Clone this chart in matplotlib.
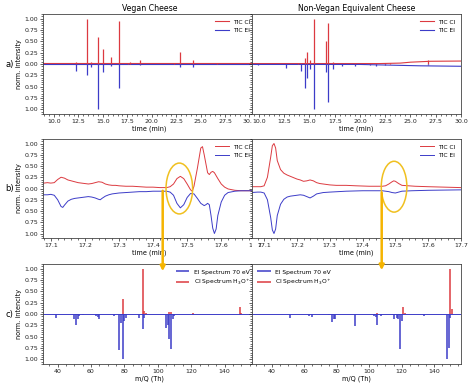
import matplotlib
matplotlib.use("Agg")
import matplotlib.pyplot as plt
from matplotlib.patches import Ellipse, FancyArrowPatch, Rectangle
from matplotlib.ticker import AutoMinorLocator, FuncFormatter, MultipleLocator

plt.rcParams['font.size'] = 4.5
plt.rcParams['axes.linewidth'] = 0.6
plt.rcParams['xtick.major.size'] = 2
plt.rcParams['ytick.major.size'] = 2
plt.rcParams['xtick.minor.size'] = 1.2
plt.rcParams['ytick.minor.size'] = 1.2
plt.rcParams['xtick.major.width'] = 0.5
plt.rcParams['ytick.major.width'] = 0.5
plt.rcParams['xtick.minor.width'] = 0.4
plt.rcParams['ytick.minor.width'] = 0.4
plt.rcParams['xtick.major.pad'] = 1.5
plt.rcParams['ytick.major.pad'] = 1.5

RED = '#dc3a40'
BLUE = '#3c3cc8'
GOLD = '#f0c020'
ARROW = '#f5b400'

#----------------------------------
# a) full chromatograms, peaks (time, height)
#----------------------------------
vegan_ci_t = [12.2, 13.38, 13.75, 14.47, 15.03, 15.85, 16.63, 17.55, 17.8, 18.83, 22.3, 22.87, 24.27, 26.7]
vegan_ci_h = [0.04, 1.00, 0.05, 0.60, 0.34, 0.16, 0.95, 0.03, 0.04, 0.08, 0.03, 0.26, 0.08, 0.02]
vegan_ei_t = [12.2, 13.38, 13.75, 14.47, 15.03, 15.85, 16.63, 18.83, 22.87, 24.27]
vegan_ei_h = [-0.15, -0.25, -0.07, -1.00, -0.18, -0.05, -0.52, -0.03, -0.07, -0.07]
vegan_base_t = [8.8, 31.0]
vegan_ci_base = [0.012, 0.012]
vegan_ei_base = [-0.008, -0.008]

nonvegan_ci_t = [13.85, 14.6, 14.75, 15.05, 15.47, 16.6, 16.87, 17.35, 19.5, 20.95, 21.6, 22.45, 22.95, 26.75]
nonvegan_ci_h = [0.02, 0.14, 0.26, 0.08, 1.00, 0.50, 0.91, 0.04, 0.03, 0.03, 0.03, 0.02, 0.02, 0.08]
nonvegan_ei_t = [9.9, 12.65, 14.2, 14.6, 14.75, 15.05, 15.47, 16.6, 16.87, 17.35, 18.25, 19.5, 20.95, 21.6, 22.45, 26.75]
nonvegan_ei_h = [-0.02, -0.08, -0.15, -0.52, -0.30, -0.12, -1.00, -0.17, -0.83, -0.10, -0.05, -0.05, -0.03, -0.05, -0.02, -0.03]
nonvegan_ci_base_t = [9.3, 22.0, 24.0, 25.0, 26.0, 27.0, 30.0]
nonvegan_ci_base = [0.01, 0.01, 0.02, 0.04, 0.05, 0.06, 0.065]
nonvegan_ei_base_t = [9.3, 20.0, 22.0, 24.0, 26.0, 30.0]
nonvegan_ei_base = [-0.01, -0.01, -0.02, -0.03, -0.04, -0.05]

#----------------------------------
# b) zoom 17.1 - 17.7 min
#----------------------------------
vegan_ci_zoom_t = [17.07, 17.08, 17.09, 17.10, 17.11, 17.12, 17.13, 17.14, 17.15, 17.16, 17.17, 17.18,
                   17.19, 17.20, 17.21, 17.22, 17.23, 17.24, 17.25, 17.26, 17.27, 17.28, 17.29, 17.30,
                   17.32, 17.34, 17.36, 17.38, 17.40, 17.42, 17.44, 17.45, 17.46, 17.47, 17.48, 17.49,
                   17.50, 17.51, 17.515, 17.52, 17.53, 17.54, 17.545, 17.55, 17.56, 17.565, 17.57, 17.575,
                   17.58, 17.59, 17.60, 17.61, 17.62, 17.64, 17.66, 17.68, 17.70]
vegan_ci_zoom = [0.13, 0.12, 0.13, 0.12, 0.13, 0.20, 0.25, 0.23, 0.19, 0.17, 0.15, 0.13,
                 0.12, 0.11, 0.10, 0.11, 0.13, 0.15, 0.14, 0.10, 0.08, 0.07, 0.07, 0.06,
                 0.05, 0.05, 0.04, 0.03, 0.03, 0.02, 0.02, 0.04, 0.10, 0.22, 0.27, 0.22,
                 0.10, -0.03, -0.06, 0.05, 0.45, 0.90, 0.93, 0.75, 0.35, 0.31, 0.36, 0.38,
                 0.35, 0.22, 0.10, 0.03, -0.01, -0.04, -0.05, -0.05, -0.05]
vegan_ei_zoom_t = [17.07, 17.08, 17.09, 17.10, 17.11, 17.12, 17.13, 17.135, 17.14, 17.15, 17.16, 17.17,
                   17.18, 17.19, 17.20, 17.21, 17.22, 17.23, 17.24, 17.245, 17.25, 17.26, 17.27, 17.28,
                   17.30, 17.32, 17.34, 17.36, 17.38, 17.40, 17.42, 17.44, 17.45, 17.46, 17.47, 17.48,
                   17.49, 17.50, 17.51, 17.52, 17.53, 17.54, 17.55, 17.555, 17.56, 17.565, 17.57, 17.575,
                   17.58, 17.585, 17.59, 17.60, 17.61, 17.62, 17.64, 17.66, 17.68, 17.70]
vegan_ei_zoom = [-0.15, -0.14, -0.14, -0.13, -0.15, -0.25, -0.40, -0.42, -0.37, -0.28, -0.24, -0.22,
                 -0.21, -0.20, -0.19, -0.18, -0.19, -0.21, -0.24, -0.25, -0.22, -0.17, -0.14, -0.12,
                 -0.10, -0.09, -0.08, -0.07, -0.07, -0.06, -0.06, -0.06, -0.08, -0.15, -0.33, -0.43,
                 -0.36, -0.20, -0.11, -0.12, -0.22, -0.33, -0.38, -0.36, -0.33, -0.36, -0.60, -0.88,
                 -1.00, -0.90, -0.60, -0.30, -0.15, -0.09, -0.06, -0.05, -0.05, -0.05]

nonvegan_ci_zoom_t = [17.06, 17.08, 17.09, 17.10, 17.11, 17.12, 17.125, 17.13, 17.135, 17.14, 17.15, 17.16,
                      17.17, 17.18, 17.19, 17.20, 17.21, 17.22, 17.23, 17.24, 17.25, 17.26, 17.27, 17.28,
                      17.30, 17.32, 17.35, 17.38, 17.42, 17.46, 17.47, 17.48, 17.49, 17.495, 17.50, 17.51,
                      17.52, 17.54, 17.56, 17.60, 17.65, 17.70]
nonvegan_ci_zoom = [0.04, 0.04, 0.04, 0.06, 0.25, 0.70, 0.95, 1.00, 0.90, 0.62, 0.42, 0.34,
                    0.30, 0.27, 0.24, 0.21, 0.19, 0.16, 0.17, 0.19, 0.17, 0.13, 0.11, 0.10,
                    0.08, 0.07, 0.07, 0.06, 0.05, 0.05, 0.06, 0.10, 0.15, 0.17, 0.16, 0.11,
                    0.07, 0.06, 0.05, 0.04, 0.03, 0.02]
nonvegan_ei_zoom_t = [17.06, 17.08, 17.09, 17.10, 17.11, 17.12, 17.125, 17.13, 17.135, 17.14, 17.15, 17.16,
                      17.17, 17.18, 17.19, 17.20, 17.21, 17.22, 17.23, 17.24, 17.25, 17.26, 17.28, 17.30,
                      17.35, 17.40, 17.46, 17.48, 17.49, 17.50, 17.51, 17.52, 17.55, 17.60, 17.70]
nonvegan_ei_zoom = [-0.09, -0.08, -0.08, -0.10, -0.25, -0.65, -0.92, -1.00, -0.90, -0.60, -0.35, -0.24,
                    -0.19, -0.17, -0.16, -0.15, -0.14, -0.15, -0.18, -0.21, -0.17, -0.12, -0.09, -0.08,
                    -0.06, -0.05, -0.05, -0.07, -0.09, -0.10, -0.08, -0.06, -0.05, -0.04, -0.03]

#----------------------------------
# c) mass spectra (m/Q, norm. intensity)
#----------------------------------
vegan_ei_mz = [39, 50, 51, 52, 53, 55, 63, 64, 65, 74, 77, 78, 79, 80, 81, 89, 91, 92,
               105, 106, 107, 108, 109, 110, 121, 149]
vegan_ei_int = [-0.08, -0.12, -0.24, -0.12, -0.05, -0.02, -0.05, -0.07, -0.10, -0.05, -0.80, -0.20,
                -1.00, -0.15, -0.08, -0.08, -0.32, -0.08, -0.30, -0.25, -0.55, -0.78, -0.10, -0.05,
                -0.02, -0.03]
vegan_ci_mz = [79, 91, 92, 93, 107, 108, 121, 149, 150]
vegan_ci_int = [0.34, 1.00, 0.07, 0.03, 0.04, 0.05, 0.02, 0.15, 0.02]

nonvegan_ei_mz = [51, 63, 65, 75, 77, 78, 79, 91, 103, 104, 105, 107, 115, 117, 118, 119, 120,
                  134, 148, 149, 150]
nonvegan_ei_int = [-0.08, -0.05, -0.07, -0.03, -0.18, -0.10, -0.12, -0.27, -0.05, -0.07, -0.25, -0.05,
                   -0.10, -0.08, -0.12, -0.78, -0.15, -0.05, -1.00, -0.75, -0.08]
nonvegan_ci_mz = [105, 121, 122, 150, 151]
nonvegan_ci_int = [0.02, 0.15, 0.02, 1.00, 0.12]

#----------------------------------
# layout in pixels
#----------------------------------
W, H = 474, 389
fig = plt.figure(figsize=(W / 100, H / 100), dpi=100)


def add_ax(x0, y0, x1, y1, z=0):
    ax = fig.add_axes([x0 / W, 1 - y1 / H, (x1 - x0) / W, (y1 - y0) / H])
    ax.set_zorder(z)
    return ax


def style(ax, left):
    ax.set_ylim(-1.1, 1.1)
    ax.yaxis.set_major_locator(MultipleLocator(0.25))
    ax.yaxis.set_major_formatter(FuncFormatter(lambda v, p: f"{abs(v):.2f}"))
    ax.xaxis.set_minor_locator(AutoMinorLocator())
    ax.yaxis.set_minor_locator(AutoMinorLocator())
    ax.tick_params(labelsize=4.5, colors='#222222')
    for s in ax.spines.values():
        s.set_color('#444444')
    if not left:
        ax.tick_params(axis='y', labelleft=False)


rows = [(14, 114), (139, 238), (264, 364)]
axes = []
for top, bot in rows:
    axl = add_ax(43, top, 256, bot, 0)
    axr = add_ax(252, top, 461, bot, 2)
    axes.append((axl, axr))

# the left panels were cut off where the right ones start
fig.add_artist(Rectangle((251.5 / W, 0), 6 / W, 1, transform=fig.transFigure,
                         facecolor='white', edgecolor='none', zorder=1))

# a)
axl, axr = axes[0]
axl.plot(vegan_base_t, vegan_ci_base, color=RED, lw=0.8, label='TIC CI')
axl.plot(vegan_base_t, vegan_ei_base, color=BLUE, lw=0.8, label='TIC EI')
axl.vlines(vegan_ci_t, 0, vegan_ci_h, color=RED, lw=0.9)
axl.vlines(vegan_ei_t, 0, vegan_ei_h, color=BLUE, lw=0.9)
axl.set_xlim(8.87, 30.67)
axr.plot(nonvegan_ci_base_t, nonvegan_ci_base, color=RED, lw=0.8, label='TIC CI')
axr.plot(nonvegan_ei_base_t, nonvegan_ei_base, color=BLUE, lw=0.8, label='TIC EI')
axr.vlines(nonvegan_ci_t, 0, nonvegan_ci_h, color=RED, lw=0.9)
axr.vlines(nonvegan_ei_t, 0, nonvegan_ei_h, color=BLUE, lw=0.9)
axr.set_xlim(9.31, 30.0)
for ax in (axl, axr):
    ax.xaxis.set_major_locator(MultipleLocator(2.5))
    ax.set_xlabel('time (min)', fontsize=4.7, labelpad=1)
axl.set_title('Vegan Cheese', fontsize=5.6, pad=2.5)
axr.set_title('Non-Vegan Equivalent Cheese', fontsize=5.6, pad=2.5)

# b)
axl, axr = axes[1]
axl.plot(vegan_ci_zoom_t, vegan_ci_zoom, color=RED, lw=0.7, label='TIC CI')
axl.plot(vegan_ei_zoom_t, vegan_ei_zoom, color=BLUE, lw=0.7, label='TIC EI')
axl.set_xlim(17.077, 17.702)
axr.plot(nonvegan_ci_zoom_t, nonvegan_ci_zoom, color=RED, lw=0.7, label='TIC CI')
axr.plot(nonvegan_ei_zoom_t, nonvegan_ei_zoom, color=BLUE, lw=0.7, label='TIC EI')
axr.set_xlim(17.063, 17.7)
for ax in (axl, axr):
    ax.xaxis.set_major_locator(MultipleLocator(0.1))
    ax.set_xlabel('time (min)', fontsize=4.7, labelpad=1)
axl.add_patch(Ellipse((17.477, 0.0), 0.078, 1.13, fill=False, ec=GOLD, lw=1.1, zorder=5))
axr.add_patch(Ellipse((17.496, 0.04), 0.078, 1.13, fill=False, ec=GOLD, lw=1.1, zorder=5))

# c)
axl, axr = axes[2]
axl.axhline(0, color=BLUE, lw=0.7)
axl.vlines(vegan_ei_mz, 0, vegan_ei_int, color=BLUE, lw=1.1, label='EI Spectrum 70 eV')
axl.vlines(vegan_ci_mz, 0, vegan_ci_int, color=RED, lw=1.1, label='CI Spectrum H$_3$O$^+$')
axl.set_xlim(31.3, 158.8)
axr.axhline(0, color=BLUE, lw=0.7)
axr.vlines(nonvegan_ei_mz, 0, nonvegan_ei_int, color=BLUE, lw=1.1, label='EI Spectrum 70 eV')
axr.vlines(nonvegan_ci_mz, 0, nonvegan_ci_int, color=RED, lw=1.1, label='CI Spectrum H$_3$O$^+$')
axr.set_xlim(27.7, 156.6)
for ax in (axl, axr):
    ax.xaxis.set_major_locator(MultipleLocator(20))
    ax.set_xlabel('m/Q (Th)', fontsize=4.7, labelpad=1)

for i, (axl, axr) in enumerate(axes):
    style(axl, True)
    style(axr, False)
    ylab = 'norm. intencity' if i == 2 else 'norm. intensity'
    axl.set_ylabel(ylab, fontsize=4.7, labelpad=1.5)
    if i < 2:
        axl.legend(loc='upper right', fontsize=4.3, frameon=False, handlelength=2.2)
        axr.legend(loc='upper right', fontsize=4.3, frameon=False, handlelength=2.2)
    else:
        axl.legend(loc='upper right', fontsize=4.3, frameon=False, handlelength=2.2)
        axr.legend(loc='upper left', fontsize=4.3, frameon=False, handlelength=2.2)

for lab, top, bot in zip(['a)', 'b)', 'c)'], [r[0] for r in rows], [r[1] for r in rows]):
    fig.text(5 / W, 1 - (top + bot) / 2 / H, lab, fontsize=6, va='center', ha='left')

# arrows from ellipses down to the spectra
for x, y0, y1 in [(162.7, 188, 274), (381.7, 190, 273)]:
    arr = FancyArrowPatch((x / W, 1 - y0 / H), (x / W, 1 - y1 / H), transform=fig.transFigure,
                          arrowstyle='-|>', mutation_scale=7, color=ARROW, lw=1.8, zorder=10)
    fig.add_artist(arr)

fig.savefig('out.png', dpi=100)
